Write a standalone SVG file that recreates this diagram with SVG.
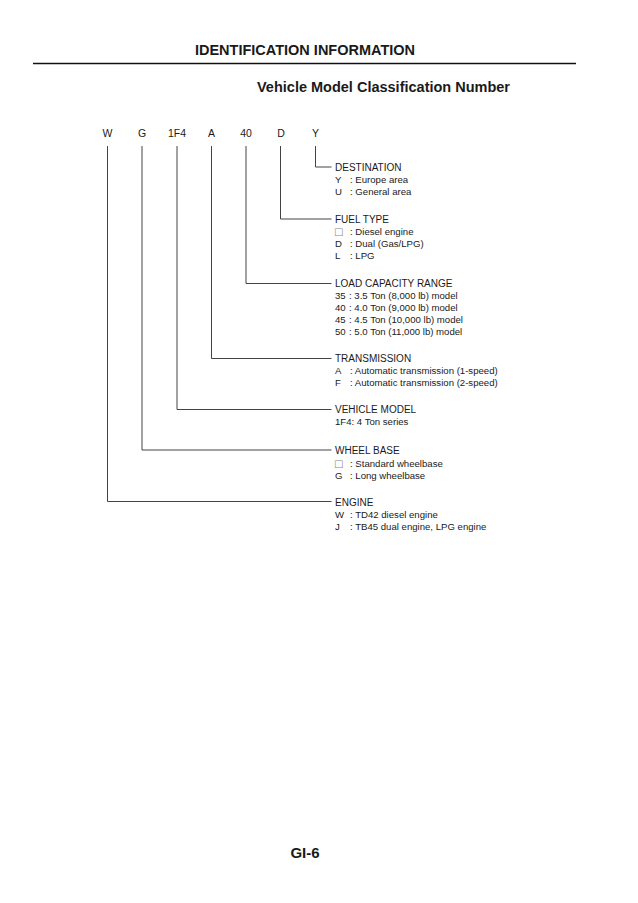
<svg xmlns="http://www.w3.org/2000/svg" width="638" height="903" viewBox="0 0 638 903">
<style>
text{font-family:"Liberation Sans",Arial,sans-serif;fill:#1a1a1a}
.t{font-size:14.5px;font-weight:bold}
.c{font-size:10.5px}
.s{font-size:9.6px}
.h{font-size:10px}
.sq{font-family:"DejaVu Sans",sans-serif;fill:#888;font-size:10px}
.ln{fill:none;stroke:#444;stroke-width:1}
</style>
<rect width="638" height="903" fill="#fff"/>
<text class="t" x="305" y="55" text-anchor="middle">IDENTIFICATION INFORMATION</text>
<line x1="33" y1="63.5" x2="576" y2="63.5" stroke="#111" stroke-width="1.3"/>
<text class="t" x="257" y="92">Vehicle Model Classification Number</text>
<g id="code" class="c">
<text x="107.5" y="137" text-anchor="middle">W</text>
<text x="142" y="137" text-anchor="middle">G</text>
<text x="177" y="137" text-anchor="middle">1F4</text>
<text x="211.5" y="137" text-anchor="middle">A</text>
<text x="246" y="137" text-anchor="middle">40</text>
<text x="281" y="137" text-anchor="middle">D</text>
<text x="315.5" y="137" text-anchor="middle">Y</text>
</g>
<g id="connectors" class="ln">
<polyline points="315.5,146 315.5,167 331.5,167"/>
<polyline points="280.5,146 280.5,219 331.5,219"/>
<polyline points="246,146 246,283.5 331.5,283.5"/>
<polyline points="211.5,146 211.5,358.5 331.5,358.5"/>
<polyline points="177,146 177,409.5 331.5,409.5"/>
<polyline points="142,146 142,450 331.5,450"/>
<polyline points="107.5,146 107.5,501.5 331.5,501.5"/>
</g>
<g id="destination" class="s">
<text class="h" x="335" y="171">DESTINATION</text>
<text x="335" y="183">Y</text><text x="350" y="183">: Europe area</text>
<text x="335" y="195">U</text><text x="350" y="195">: General area</text>
</g>
<g id="fuel" class="s">
<text class="h" x="335" y="222.5">FUEL TYPE</text>
<text class="sq" x="334" y="235">□</text><text x="350" y="235">: Diesel engine</text>
<text x="335" y="247">D</text><text x="350" y="247">: Dual (Gas/LPG)</text>
<text x="335" y="259">L</text><text x="350" y="259">: LPG</text>
</g>
<g id="load" class="s">
<text class="h" x="335" y="287">LOAD CAPACITY RANGE</text>
<text x="335" y="299">35</text><text x="349" y="299">: 3.5 Ton (8,000 lb) model</text>
<text x="335" y="311">40</text><text x="349" y="311">: 4.0 Ton (9,000 lb) model</text>
<text x="335" y="323">45</text><text x="349" y="323">: 4.5 Ton (10,000 lb) model</text>
<text x="335" y="335">50</text><text x="349" y="335">: 5.0 Ton (11,000 lb) model</text>
</g>
<g id="transmission" class="s">
<text class="h" x="335" y="362">TRANSMISSION</text>
<text x="335" y="374">A</text><text x="350" y="374">: Automatic transmission (1-speed)</text>
<text x="335" y="386">F</text><text x="350" y="386">: Automatic transmission (2-speed)</text>
</g>
<g id="vehicle" class="s">
<text class="h" x="335" y="413">VEHICLE MODEL</text>
<text x="335" y="425">1F4: 4 Ton series</text>
</g>
<g id="wheelbase" class="s">
<text class="h" x="335" y="454">WHEEL BASE</text>
<text class="sq" x="334" y="466.5">□</text><text x="350" y="466.5">: Standard wheelbase</text>
<text x="335" y="478.5">G</text><text x="350" y="478.5">: Long wheelbase</text>
</g>
<g id="engine" class="s">
<text class="h" x="335" y="505.5">ENGINE</text>
<text x="335" y="517.5">W</text><text x="350" y="517.5">: TD42 diesel engine</text>
<text x="335" y="529.5">J</text><text x="350" y="529.5">: TB45 dual engine, LPG engine</text>
</g>
<text class="t" x="305" y="858" text-anchor="middle" style="font-size:15px">GI-6</text>
</svg>
